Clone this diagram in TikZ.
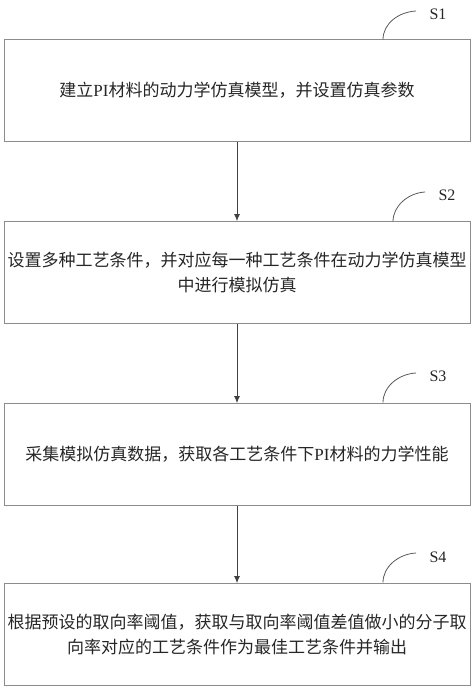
\documentclass[tikz,border=0pt]{standalone}
\usepackage{fontspec}
\setmainfont{Liberation Serif}
\newfontfamily\cjk{Noto Sans CJK SC}
\usetikzlibrary{arrows.meta}
\begin{document}
\begin{tikzpicture}[x=1pt,y=-1pt,
  stepbox/.style={draw=black!45,line width=0.9pt,minimum width=466pt,minimum height=102pt,
    inner sep=0pt,align=center,font=\fontsize{17pt}{25pt}\selectfont\cjk,text=black!85},
  steplabel/.style={font=\fontsize{16pt}{18pt}\selectfont\rmfamily,text=black!85,inner sep=0pt},
  flow/.style={draw=black!75,line width=0.8pt,-{Latex[length=7pt,width=6pt]}},
  tag/.style={draw=black!65,line width=0.8pt}]
\useasboundingbox (0,0) rectangle (474,690);
\node[stepbox] (b1) at (237,90.5) {建立{\rmfamily PI}材料的动力学仿真模型，并设置仿真参数};
\node[stepbox] (b2) at (237,272.5) {设置多种工艺条件，并对应每一种工艺条件在动力学仿真模型\\中进行模拟仿真};
\node[stepbox] (b3) at (237,454.5) {采集模拟仿真数据，获取各工艺条件下{\rmfamily PI}材料的力学性能};
\node[stepbox] (b4) at (237,634.5) {根据预设的取向率阈值，获取与取向率阈值差值做小的分子取\\向率对应的工艺条件作为最佳工艺条件并输出};
\node[steplabel] (s1) at (438,14) {S1};
\node[steplabel] (s2) at (447,195) {S2};
\node[steplabel] (s3) at (438,376) {S3};
\node[steplabel] (s4) at (438,557) {S4};
\draw[flow] (b1) -- (b2);
\draw[flow] (b2) -- (b3);
\draw[flow] (b3) -- (b4);
\coordinate (c1) at (383,39.5);
\coordinate (e1) at (416,11);
\coordinate (c2) at (393,221.5);
\coordinate (e2) at (425,192);
\coordinate (c3) at (383,402.5);
\coordinate (e3) at (416,373);
\coordinate (c4) at (383,582.5);
\coordinate (e4) at (416,553);
\draw[tag] (c1) .. controls (383,24) and (398,12) .. (e1);
\draw[tag] (c2) .. controls (393,206) and (408,193) .. (e2);
\draw[tag] (c3) .. controls (383,387) and (398,374) .. (e3);
\draw[tag] (c4) .. controls (383,567) and (398,554) .. (e4);
\end{tikzpicture}
\end{document}
